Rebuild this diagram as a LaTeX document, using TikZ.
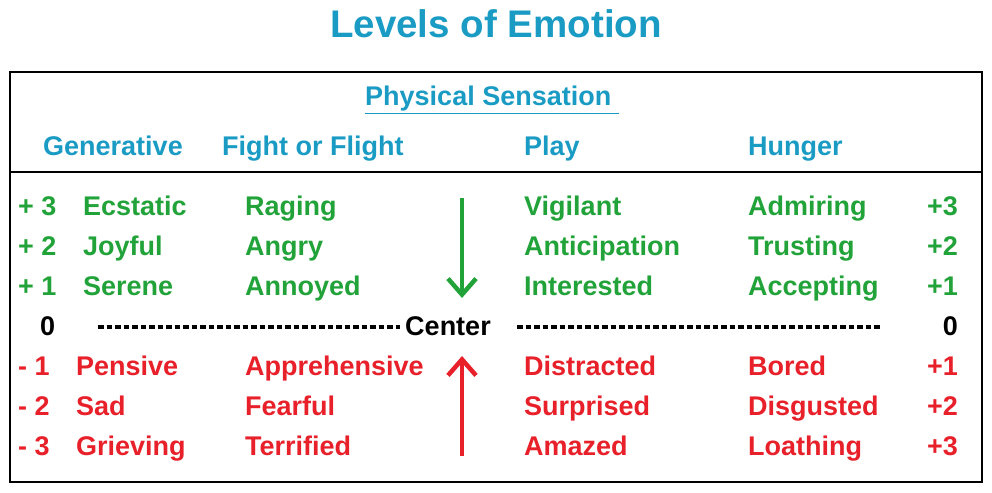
\documentclass[tikz,border=0pt]{standalone}
\usepackage{fontspec}
\setmainfont{Liberation Sans}
\usetikzlibrary{arrows.meta}
\definecolor{tblue}{HTML}{1A9BC4}
\definecolor{tgreen}{HTML}{22A33A}
\definecolor{tred}{HTML}{E8202A}
\begin{document}
\begin{tikzpicture}[x=1pt,y=-1pt,
  txt/.style={font=\fontsize{27}{30}\selectfont\bfseries,inner sep=0pt,anchor=base west},
  g/.style={txt,text=tgreen}, r/.style={txt,text=tred}, b/.style={txt,text=tblue}, k/.style={txt,text=black}]
\useasboundingbox (0,0) rectangle (992,492);
\node[font=\fontsize{38.5}{42}\selectfont\bfseries,text=tblue,inner sep=0pt,anchor=base] (title) at (496,38) {Levels of Emotion};
\draw[line width=1.5pt] (10,72) rectangle (982,482);
\draw[line width=1.5pt] (10,172) -- (982,172);
\node[b,anchor=base] (ps) at (492,106) {\underline{Physical Sensation\ }};
\node[b] (h1) at (43,155) {Generative};
\node[b] (h2) at (222,155) {Fight or Flight};
\node[b] (h3) at (524,155) {Play};
\node[b] (h4) at (748,155) {Hunger};
\foreach \n/\a/\bb/\c/\d/\e/\y in {+ 3/Ecstatic/Raging/Vigilant/Admiring/+3/215,+ 2/Joyful/Angry/Anticipation/Trusting/+2/255,+ 1/Serene/Annoyed/Interested/Accepting/+1/295}{
  \node[g] (ln\y) at (18,\y) {\n};
  \node[g] (a\y) at (83,\y) {\a};
  \node[g] (b\y) at (245,\y) {\bb};
  \node[g] (c\y) at (524,\y) {\c};
  \node[g] (d\y) at (748,\y) {\d};
  \node[g,anchor=base east] (rn\y) at (958,\y) {\e};
}
\foreach \n/\a/\bb/\c/\d/\e/\y in {- 1/Pensive/Apprehensive/Distracted/Bored/+1/375,- 2/Sad/Fearful/Surprised/Disgusted/+2/415,- 3/Grieving/Terrified/Amazed/Loathing/+3/455}{
  \node[r] (ln\y) at (18,\y) {\n};
  \node[r] (a\y) at (76,\y) {\a};
  \node[r] (b\y) at (245,\y) {\bb};
  \node[r] (c\y) at (524,\y) {\c};
  \node[r] (d\y) at (748,\y) {\d};
  \node[r,anchor=base east] (rn\y) at (958,\y) {\e};
}
\node[k] (z1) at (40,335) {0};
\node[k,anchor=base] (ctr) at (448,335) {Center};
\node[k,anchor=base east] (z2) at (958,335) {0};
\draw[line width=3.5pt,dash pattern=on 5.5pt off 3pt] (98,327) -- (400,327);
\draw[line width=3.5pt,dash pattern=on 5.5pt off 3pt] (517,327) -- (882,327);
\coordinate (gt) at (462,198);
\coordinate (gb) at (462,298);
\coordinate (rt) at (462,356);
\coordinate (rb) at (462,456);
\draw[tgreen,line width=4.5pt,-{Straight Barb[length=16pt,width=28pt,line width=4.5pt]}] (gt) -- (gb);
\draw[tred,line width=4.5pt,-{Straight Barb[length=16pt,width=28pt,line width=4.5pt]}] (rb) -- (rt);
\end{tikzpicture}
\end{document}
